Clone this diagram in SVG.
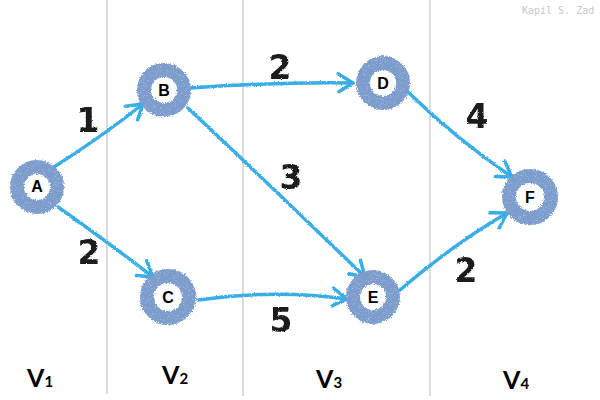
<svg xmlns="http://www.w3.org/2000/svg" width="600" height="400" viewBox="0 0 600 400">
  <style>
    .grid { stroke: #c4c4c4; stroke-width: 1.2; }
    .ring { fill: none; stroke: #7b9dcc; stroke-width: 14; filter: url(#rough); }
    .edge { fill: none; stroke: #38ade6; stroke-width: 3.5; stroke-linecap: round; filter: url(#roughThin); }
    .nlabel { font-family: "Liberation Sans", Arial, sans-serif; font-weight: bold; font-size: 16px; fill: #000; text-anchor: middle; dominant-baseline: central; }
    .w { font-family: "DejaVu Sans", "Liberation Sans", sans-serif; font-weight: bold; font-size: 33px; fill: #1a1a1a; text-anchor: middle; dominant-baseline: central; filter: url(#roughThin); }
    .v { font-family: Lato, "Liberation Sans", sans-serif; font-weight: bold; font-size: 25px; fill: #000; }
    .sub { font-size: 15px; }
    .credit { font-family: "DejaVu Sans Mono", "Liberation Mono", monospace; font-size: 10px; fill: #c8c8c8; }
  </style>
  <defs>
    <filter id="rough" filterUnits="userSpaceOnUse" x="0" y="0" width="600" height="400">
      <feTurbulence type="fractalNoise" baseFrequency="0.9" numOctaves="2" seed="3" result="n"/>
      <feDisplacementMap in="SourceGraphic" in2="n" scale="4" xChannelSelector="R" yChannelSelector="G" result="d"/>
      <feTurbulence type="fractalNoise" baseFrequency="1.6" numOctaves="1" seed="11" result="g"/>
      <feColorMatrix in="g" type="matrix" values="0 0 0 0 0  0 0 0 0 0  0 0 0 0 0  0 0 0 -1.6 1.9" result="ga"/>
      <feComposite in="d" in2="ga" operator="in"/>
    </filter>
    <filter id="roughThin" filterUnits="userSpaceOnUse" x="0" y="0" width="600" height="400">
      <feTurbulence type="fractalNoise" baseFrequency="1.2" numOctaves="2" seed="7" result="n"/>
      <feDisplacementMap in="SourceGraphic" in2="n" scale="2.5" xChannelSelector="R" yChannelSelector="G"/>
    </filter>
    <marker id="arrow" markerUnits="userSpaceOnUse" markerWidth="30" markerHeight="30" viewBox="-20 -15 30 30" refX="0" refY="0" orient="auto">
      <path d="M-15,-9 L0,0 L-14,9" fill="none" stroke="#38ade6" stroke-width="3.5" stroke-linecap="round" stroke-linejoin="round"/>
    </marker>
  </defs>

  <rect width="600" height="400" fill="#ffffff"/>

  <g id="grid">
    <line class="grid" x1="107" y1="0" x2="107" y2="394"/>
    <line class="grid" x1="243" y1="0" x2="243" y2="396"/>
    <line class="grid" x1="430" y1="0" x2="430" y2="396"/>
  </g>

  <text class="credit" x="522" y="14">Kapil S. Zad</text>

  <g id="connectors">
    <path class="edge" d="M54,167 Q100,138 143,104" marker-end="url(#arrow)"/>
    <path class="edge" d="M58,207 Q105,240 153,277" marker-end="url(#arrow)"/>
    <path class="edge" d="M190,88 Q270,82 353,83" marker-end="url(#arrow)"/>
    <path class="edge" d="M188,108 Q275,190 365,277" marker-end="url(#arrow)"/>
    <path class="edge" d="M198,300 Q275,289 347,299" marker-end="url(#arrow)"/>
    <path class="edge" d="M408,92 Q455,138 512,177" marker-end="url(#arrow)"/>
    <path class="edge" d="M400,290 Q455,243 507,213" marker-end="url(#arrow)"/>
  </g>

  <g id="weights">
    <text class="w" x="88" y="120">1</text>
    <text class="w" x="89" y="252">2</text>
    <text class="w" x="280" y="67">2</text>
    <text class="w" x="291" y="177">3</text>
    <text class="w" x="281" y="320">5</text>
    <text class="w" x="477" y="116">4</text>
    <text class="w" x="466" y="270">2</text>
  </g>

  <g id="node-A"><circle class="ring" cx="37" cy="187" r="20"/><text class="nlabel" x="37" y="186">A</text></g>
  <g id="node-B"><circle class="ring" cx="164" cy="90" r="20"/><text class="nlabel" x="164" y="90">B</text></g>
  <g id="node-C"><circle class="ring" cx="168" cy="297" r="21"/><text class="nlabel" x="168" y="297">C</text></g>
  <g id="node-D"><circle class="ring" cx="383" cy="83" r="20"/><text class="nlabel" x="383" y="83">D</text></g>
  <g id="node-E"><circle class="ring" cx="373" cy="297" r="20"/><text class="nlabel" x="373" y="297">E</text></g>
  <g id="node-F"><circle class="ring" cx="530" cy="197" r="21"/><text class="nlabel" x="530" y="197">F</text></g>

  <g id="layers">
    <text class="v" x="27" y="387">V<tspan class="sub">1</tspan></text>
    <text class="v" x="162" y="384">V<tspan class="sub">2</tspan></text>
    <text class="v" x="316" y="388">V<tspan class="sub">3</tspan></text>
    <text class="v" x="503" y="389">V<tspan class="sub">4</tspan></text>
  </g>
</svg>
